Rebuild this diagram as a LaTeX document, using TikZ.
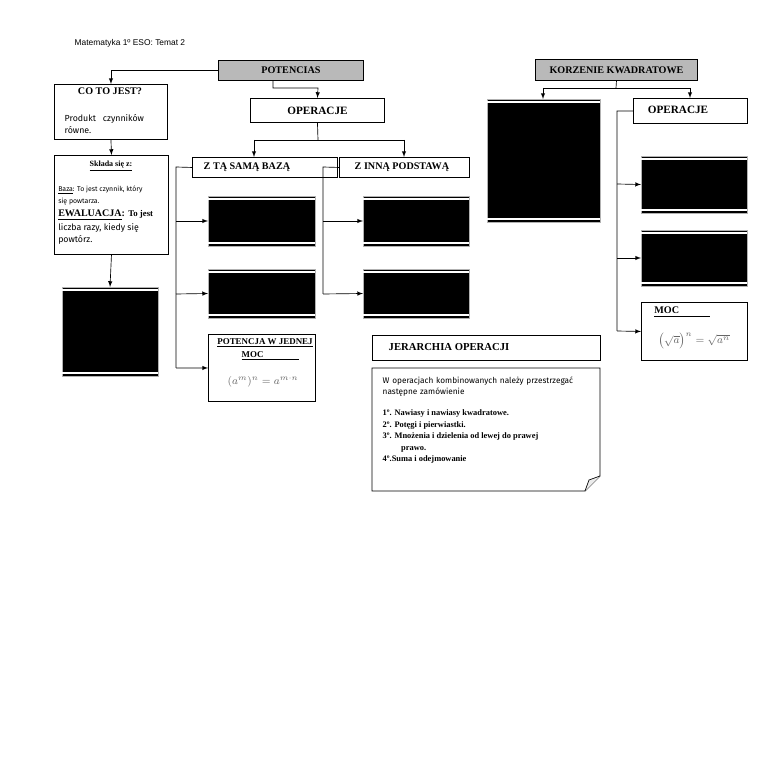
\documentclass[tikz,border=0pt]{standalone}
\usepackage{fontspec}
\setmainfont{Liberation Serif}
\newfontfamily\hdr{Liberation Sans}
\newfontfamily\cms{Fira Sans}
\begin{document}
\begin{tikzpicture}[x=0.75pt,y=-0.75pt,
  box/.style={draw,line width=0.7pt,inner sep=0pt,anchor=north west},
  ttl/.style={font=\fontsize{7.6}{8}\selectfont\bfseries},
  sl/.style={anchor=west,inner sep=0pt},
  arr/.style={-latex,line width=0.5pt},
  ln/.style={line width=0.5pt}]
\useasboundingbox (0,0) rectangle (768,762);
\newcommand\bx[5]{\node[box,minimum width=#3*0.75pt,minimum height=#4*0.75pt] (#5) at (#1,#2) {};}
\newcommand\blk[5]{\fill[black] (#1,#2) rectangle ++(#3,#4);
  \draw[gray!60,line width=0.4pt] (#1,#2) rectangle ++(#3,#4);
  \draw[white,line width=0.8pt] (#1,#2+3) -- ++(#3,0) (#1,#2+#4-3) -- ++(#3,0);
  \coordinate (#5) at (#1,#2+#4/2);
  \coordinate (#5t) at (#1+#3/2,#2);}
\node[anchor=west,font=\hdr\fontsize{6.3}{7}\selectfont] (hd) at (70,43) {Matematyka 1º ESO: Temat 2};
% boxes
\node[box,fill=gray!55,minimum width=145*0.75pt,minimum height=20*0.75pt,ttl] (pot) at (218,60) {POTENCIAS};
\node[box,fill=gray!55,minimum width=162*0.75pt,minimum height=21*0.75pt,ttl] (kor) at (535,59) {KORZENIE KWADRATOWE};
\bx{54}{84}{113}{55}{co}
\node[ttl] (cot) at (110,91) {CO TO JEST?};
\node[anchor=north west,font=\cms\fontsize{6.6}{9}\selectfont,align=left] (cotx) at (60,110) {Produkt\ \ \ czynników\\równe.};
\node[box,minimum width=134*0.75pt,minimum height=24*0.75pt,ttl,font=\fontsize{8.4}{9}\selectfont\bfseries] (op1) at (250,98) {OPERACJE};
\bx{54}{155}{114}{99}{sk}
\node[font=\fontsize{6}{7}\selectfont\bfseries] (skt) at (111,166) {\underline{Składa się z:}};
\node[sl,font=\cms\fontsize{5.2}{6}\selectfont] (s1) at (58,190) {\underline{Baza}: To jest czynnik, który};
\node[sl,font=\cms\fontsize{5.2}{6}\selectfont] (s2) at (58,202) {się powtarza.};
\node[sl,font=\fontsize{7.5}{8}\selectfont\bfseries] (s3) at (58,215) {\underline{EWALUACJA}: \fontsize{6.6}{8}\selectfont To jest};
\node[sl,font=\cms\fontsize{6.6}{8}\selectfont] (s4) at (58,228) {liczba razy, kiedy się};
\node[sl,font=\cms\fontsize{6.6}{8}\selectfont] (s5) at (58,240) {powtórz.};
\blk{62}{287}{96}{89}{b0}
\node[box,minimum width=145*0.75pt,minimum height=20*0.75pt] (zt) at (192,157) {};
\node[ttl,anchor=west] (ztt) at (199,167) {Z TĄ SAMĄ BAZĄ};
\node[box,minimum width=130*0.75pt,minimum height=20*0.75pt] (zi) at (339,157) {};
\node[ttl,anchor=west] (zit) at (350,167) {Z INNĄ PODSTAWĄ};
\blk{208}{196}{107}{50}{b1}
\blk{208}{269}{107}{49}{b2}
\blk{363}{196}{106}{50}{b3}
\blk{363}{269}{106}{49}{b4}
\bx{208}{334}{107}{67}{pj}
\node[font=\fontsize{6.7}{7}\selectfont\bfseries] (pjt) at (265,343) {\underline{POTENCJA W JEDNEJ}};
\node[font=\fontsize{6.7}{7}\selectfont\bfseries,anchor=west] (pjt2) at (237,356) {\underline{MOC\phantom{xxxxxxxx}}};
\node[text=gray!80!black,font=\fontsize{8}{9}\selectfont] (pjf) at (263,382) {$\left(a^m\right)^n=a^{m\cdot n}$};
\node[box,minimum width=228*0.75pt,minimum height=25*0.75pt] (je) at (372,335) {};
\node[anchor=west,font=\fontsize{8}{8}\selectfont\bfseries] (jet) at (384,347) {JERARCHIA OPERACJI};
\draw[line width=0.7pt] (372,368) -- (600,368) -- (600,476) -- (585,491) -- (372,491) -- cycle;
\draw[line width=0.5pt,fill=gray!15] (585,491) -- (589,480) -- (600,476);
\node[anchor=north west,font=\cms\fontsize{6.2}{8.5}\selectfont,align=left,text width=218*0.75pt] (jtx) at (378,372)
 {W operacjach kombinowanych należy przestrzegać następne zamówienie};
\node[anchor=north west,font=\fontsize{6.3}{8.7}\selectfont\bfseries,align=left] (jl) at (378,405)
 {1º. Nawiasy i nawiasy kwadratowe.\\2º. Potęgi i pierwiastki.\\3º. Mnożenia i dzielenia od lewej do prawej\\\hspace*{2.2em}prawo.\\4º.Suma i odejmowanie};
\blk{487}{99}{113}{123}{r0}
\node[box,minimum width=114*0.75pt,minimum height=25*0.75pt] (op2) at (633,98) {};
\node[ttl,font=\fontsize{8.4}{9}\selectfont\bfseries] (op2t) at (678,110) {OPERACJE};
\blk{641}{156}{106}{57}{r1}
\blk{641}{230}{106}{56}{r2}
\bx{641}{302}{106}{58}{mo}
\node[ttl] (mot) at (682,312) {\underline{MOC\phantom{xxxxxx}}};
\node[text=gray!80!black,font=\fontsize{8}{9}\selectfont] (mof) at (694,341) {$\left(\sqrt{a}\right)^n=\sqrt{a^n}$};
% connectors
\draw[arr] (pot.west) -| (co.north);
\draw[arr] (pot.south) ++(-18,0) |- (318,88) -- (op1.north);
\draw[ln] (op1.south) -- (318,140);
\draw[ln] (254,140) -- (404,140);
\draw[arr] (254,140) -- (254,157);
\draw[arr] (404,140) -- (404,157);
\draw[arr] (co.south) -- (sk.north);
\draw[arr] (sk.south) -- (b0t);
\draw[ln] (zt.west) -- (176,167) -- (176,368);
\draw[arr] (176,221) -- (b1);
\draw[arr] (176,294) -- (b2);
\draw[arr] (176,368) -- (pj.west);
\draw[ln] (zi.west) -- (323,167) -- (323,294);
\draw[arr] (323,221) -- (b3);
\draw[arr] (323,294) -- (b4);
\draw[ln] (kor.south) -- (616,88);
\draw[ln] (543,88) -- (690,88);
\draw[arr] (690,88) -- (690,98);
\draw[arr] (543,88) -- (543,99);
\draw[ln] (op2.west) -- (617,111) -- (617,331);
\draw[arr] (617,184) -- (r1);
\draw[arr] (617,258) -- (r2);
\draw[arr] (617,331) -- (mo.west);
\end{tikzpicture}
\end{document}
